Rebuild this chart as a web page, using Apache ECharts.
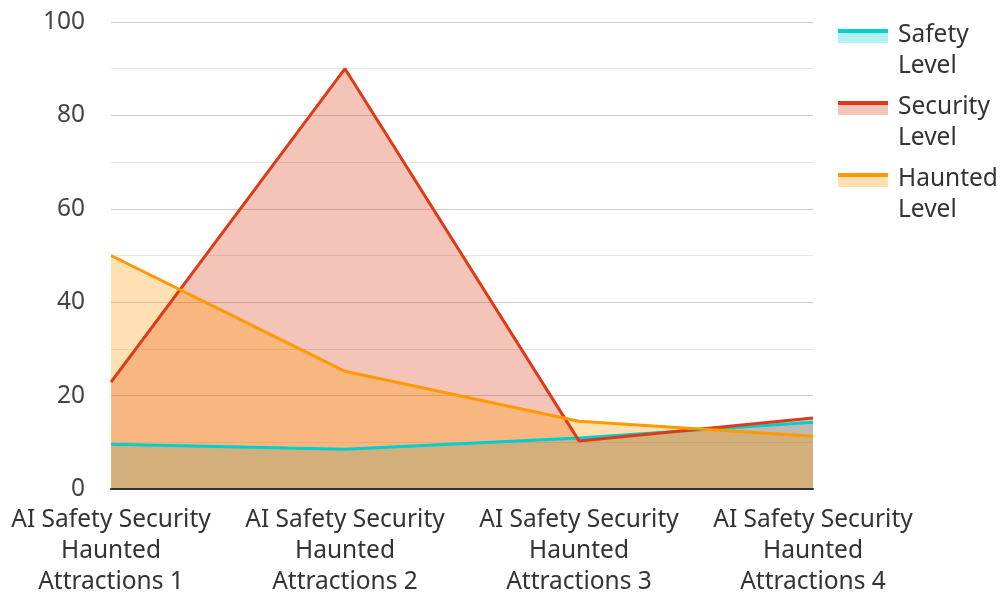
<!DOCTYPE html>
<html><head><meta charset="utf-8">
<script src="https://cdn.jsdelivr.net/npm/echarts@6/dist/echarts.min.js"></script>
<style>html,body{margin:0;padding:0;background:#fff}#c{width:1000px;height:593px}</style>
</head><body><div id="c"></div>
<script>
const categories = ["AI Safety Security Haunted Attractions 1","AI Safety Security Haunted Attractions 2","AI Safety Security Haunted Attractions 3","AI Safety Security Haunted Attractions 4"];
const seriesNames = ['Safety Level','Security Level','Haunted Level'];
const safetyLevel = [9.6, 8.5, 10.9, 14.3];
const securityLevel = [22.9, 90, 10.3, 15.2];
const hauntedLevel = [50, 25.2, 14.5, 11.3];
const yTicks = [0, 20, 40, 60, 80, 100];
const colors = ['#00CED1', '#DF3A17', '#FF9900'];

const font = "'Noto Sans', sans-serif";
const chart = echarts.init(document.getElementById('c'), null, {renderer:'canvas'});
function icon(color){
  const svg = `<svg xmlns="http://www.w3.org/2000/svg" width="50" height="62"><rect x="0" y="12" width="50" height="11" fill="${color}" fill-opacity="0.3"/><rect x="0" y="9" width="50" height="4" fill="${color}"/></svg>`;
  return 'image://data:image/svg+xml;charset=utf-8,' + encodeURIComponent(svg);
}
function mk(name, data, color){
  return {name, type:'line', data, symbol:'none', smooth:false,
    lineStyle:{color, width:3}, itemStyle:{color},
    areaStyle:{color, opacity:0.3}};
}
chart.setOption({
  animation:false,
  grid:{left:111, right:187, top:22, bottom:104, containLabel:false, outerBoundsMode:'none'},
  legend:{orient:'vertical', left:838, top:20, itemWidth:50, itemHeight:62, itemGap:10, padding:0,
    textStyle:{fontFamily:font, fontSize:24.5, color:'#333', lineHeight:31, padding:[0,0,0,5]},
    formatter: n => n.replace(' ', '\n'),
    data: seriesNames.map((n,i)=>({name:n, icon:icon(colors[i])}))},
  xAxis:{type:'category', data:categories, boundaryGap:false, z:5,
    axisLine:{lineStyle:{color:'#333', width:2}}, axisTick:{show:false},
    axisLabel:{fontFamily:font, fontSize:24.5, color:'#333', lineHeight:31, margin:16, interval:0,
      formatter: v => v.replace('Security ', 'Security\n').replace('Haunted ', 'Haunted\n')}},
  yAxis:{type:'value', min:0, max:100, interval:20,
    axisLine:{show:false}, axisTick:{show:false},
    axisLabel:{fontFamily:font, fontSize:24.5, color:'#444', margin:26,
      formatter: v => yTicks.includes(v) ? String(v) : ''},
    splitLine:{lineStyle:{color:'#cccccc', width:1}},
    minorTick:{show:false, splitNumber:2},
    minorSplitLine:{show:true, lineStyle:{color:'#e6e6e6', width:1}}},
  series:[mk(seriesNames[0], safetyLevel, colors[0]), mk(seriesNames[1], securityLevel, colors[1]), mk(seriesNames[2], hauntedLevel, colors[2])]
});
</script></body></html>
